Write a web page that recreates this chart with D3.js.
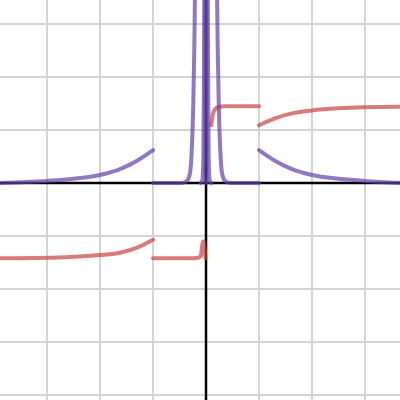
<!DOCTYPE html>
<html><head><script src="https://cdn.jsdelivr.net/npm/d3@7"></script>
<style>body{margin:0}</style></head>
<body><div id="main-frame"></div>
<script>
// curve samples: [x, y]
var redLeft = [[-3.9,-1.42],[-3,-1.41],[-2.5,-1.39],[-2,-1.36],[-1.6,-1.31],[-1.3,-1.22],[-1,-1.07]];
var redMidL = [[-1,-1.42],[-0.3,-1.42],[-0.15,-1.41],[-0.1,-1.38],[-0.08,-1.25],[-0.06,-1.12],[-0.04,-1.1],[-0.02,-1.3],[-0.01,-1.42]];
var redMidR = [[0.1,1.09],[0.12,1.25],[0.16,1.38],[0.22,1.43],[0.35,1.45],[1,1.45]];
var redRight = [[1,1.09],[1.3,1.22],[1.6,1.31],[2,1.37],[2.5,1.41],[3,1.43],[3.7,1.44]];
var purpLeft = [[-3.9,0],[-3,0.04],[-2.5,0.08],[-2,0.15],[-1.6,0.27],[-1.3,0.42],[-1,0.62]];
var purpRight = [[1,0.62],[1.3,0.42],[1.6,0.27],[2,0.15],[2.5,0.08],[3,0.04],[3.7,0]];
var purpWide = [[-1,0],[-0.45,0],[-0.35,0.05],[-0.3,0.2],[-0.27,0.6],[-0.24,1.5],[-0.22,2.6],[-0.2,4],
  [0.2,4],[0.22,2.6],[0.24,1.5],[0.27,0.6],[0.3,0.2],[0.35,0.05],[0.45,0],[1,0]];
var purpNarrow = [[-0.1,0],[-0.07,0.05],[-0.05,0.5],[-0.04,2],[-0.03,4],
  [0.03,4],[0.04,2],[0.05,0.5],[0.07,0.05],[0.1,0]];
var purpSpike = [[-0.01,0],[-0.01,4],[0.01,4],[0.01,0]];

var W = 400, H = 400;
var x = d3.scaleLinear().domain([-3.887, 3.66]).range([0, W]);
var y = d3.scaleLinear().domain([3.453, -4.094]).range([0, H]);

var svg = d3.select("#main-frame").append("svg").attr("width", W).attr("height", H);
svg.append("rect").attr("width", W).attr("height", H).attr("fill", "#fff");

d3.range(-3, 4).forEach(function(v) {
  if (v === 0) return;
  svg.append("line").attr("x1", x(v)).attr("x2", x(v)).attr("y1", 0).attr("y2", H)
    .style("stroke", "#d4d4d4").style("stroke-width", 2);
});
d3.range(-4, 4).forEach(function(v) {
  if (v === 0) return;
  svg.append("line").attr("y1", y(v)).attr("y2", y(v)).attr("x1", 0).attr("x2", W)
    .style("stroke", "#d4d4d4").style("stroke-width", 2);
});
svg.append("line").attr("x1", x(0)).attr("x2", x(0)).attr("y1", 0).attr("y2", H)
  .style("stroke", "#000").style("stroke-width", 2.5);
svg.append("line").attr("y1", y(0)).attr("y2", y(0)).attr("x1", 0).attr("x2", W)
  .style("stroke", "#000").style("stroke-width", 2.5);

var line = d3.line().x(function(d){ return x(d[0]); }).y(function(d){ return y(d[1]); }).curve(d3.curveMonotoneX);
var line2 = d3.line().x(function(d){ return x(d[0]); }).y(function(d){ return y(d[1]); });

function draw(pts, col, gen) {
  svg.append("path").attr("d", (gen || line)(pts)).attr("fill", "none")
    .style("stroke", col).style("stroke-width", 4).style("stroke-opacity", 0.7)
    .style("stroke-linecap", "round");
}
[redLeft, redMidL, redMidR, redRight].forEach(function(p){ draw(p, "#c74440"); });
[purpLeft, purpRight, purpWide, purpNarrow].forEach(function(p){ draw(p, "#6042a6"); });
draw(purpSpike, "#6042a6", line2);
</script></body></html>
